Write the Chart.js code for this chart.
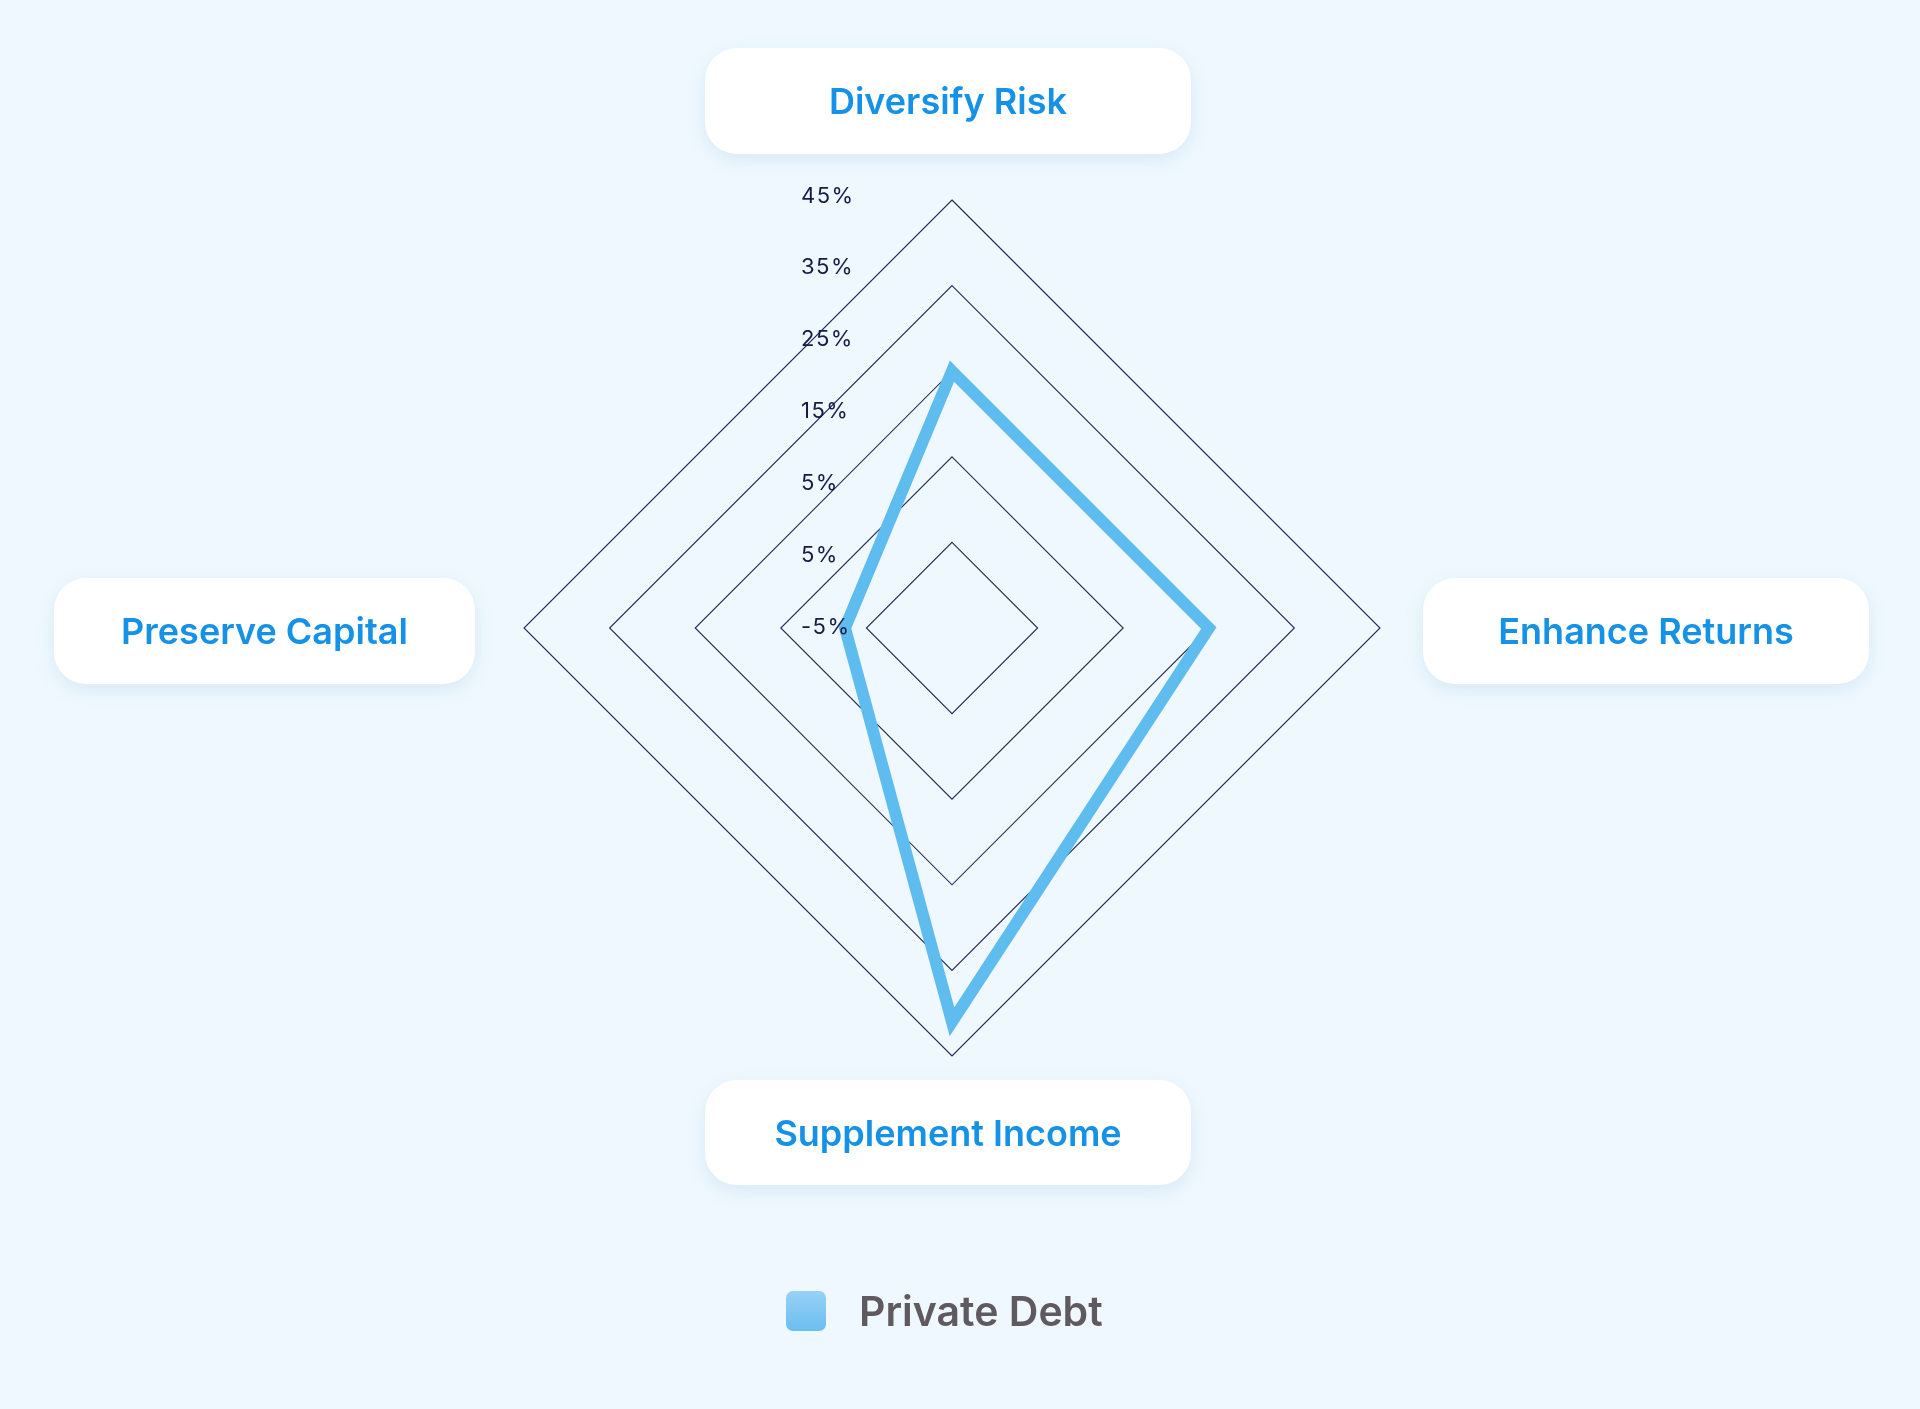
<!DOCTYPE html>
<html>
<head>
<meta charset="utf-8">
<script src="https://cdn.jsdelivr.net/npm/chart.js@4/dist/chart.umd.min.js"></script>
<style>
  html, body { margin: 0; padding: 0; }
  body {
    width: 1920px; height: 1409px; overflow: hidden;
    background: #eff8fe;
    font-family: Inter, "Open Sans", sans-serif;
    position: relative;
  }
  #wrap { position: absolute; left: 0; top: 0; width: 1920px; height: 1409px; }
  .axis-box {
    position: absolute;
    background: #fff;
    border-radius: 32px;
    box-shadow: 0 6px 18px rgba(120, 170, 210, 0.18);
    display: flex; align-items: center; justify-content: center;
    color: #1591e5;
    font-weight: 600;
    font-size: 36px;
    letter-spacing: 0;
  }
  #legend {
    position: absolute; left: 786px; top: 1286px;
    display: flex; align-items: center;
  }
  #legend .swatch {
    width: 40px; height: 40px; border-radius: 7px;
    background: linear-gradient(#97d2f6, #6bbdf1);
  }
  #legend .text {
    margin-left: 33px;
    color: #5f5a60; font-size: 41px; font-weight: 600;
    letter-spacing: 0;
  }
</style>
</head>
<body>
<div id="wrap"><canvas id="radar" width="1920" height="1409"></canvas></div>
<div id="boxes"></div>
<div id="legend"></div>
<script>
// Categories, clockwise from the top
const categories = ['Diversify Risk', 'Enhance Returns', 'Supplement Income', 'Preserve Capital'];
const seriesName = 'Private Debt';
const privateDebt = [25, 25, 41, 7.5];
// tick labels printed up the left side, from the centre outwards
const tickLabels = ['-5%', '5%', '5%', '15%', '25%', '35%', '45%'];

// label boxes (left, top, width, height) in page pixels
const boxLayout = [
    [705, 48, 486, 106],
    [1423, 578, 446, 106],
    [705, 1080, 486, 105],
    [54, 578, 421, 106]
];

// Build the axis label boxes
document.getElementById('boxes').innerHTML = categories.map((name, i) => {
    const b = boxLayout[i];
    return `<div class="axis-box" style="left:${b[0]}px;top:${b[1]}px;width:${b[2]}px;height:${b[3]}px">${name}</div>`;
}).join('');

// Draw the odd left-hand tick labels evenly between centre and outer ring
const tickLabelPlugin = {
    id: 'tickLabels',
    afterDatasetsDraw(chart) {
        const scale = chart.scales.r;
        const ctx = chart.ctx;
        ctx.save();
        ctx.font = '22px Inter, sans-serif';
        ctx.fillStyle = '#131d48';
        ctx.textAlign = 'left';
        ctx.textBaseline = 'middle';
        if ('letterSpacing' in ctx) ctx.letterSpacing = '1.5px';
        const n = tickLabels.length - 1;
        const span = scale.drawingArea + 3;
        tickLabels.forEach((t, i) => {
            ctx.fillText(t, scale.xCenter - 151, scale.yCenter - 1 - span * i / n);
        });
        ctx.restore();
    }
};

const chart = new Chart(document.getElementById('radar'), {
    type: 'radar',
    data: {
        labels: categories,
        datasets: [{
            label: seriesName,
            data: privateDebt,
            borderColor: '#5fbcef',
            backgroundColor: '#7cc6f3',
            borderWidth: 12,
            borderJoinStyle: 'miter',
            fill: false,
            pointRadius: 0,
            pointHoverRadius: 0,
            tension: 0
        }]
    },
    options: {
        responsive: false,
        animation: false,
        devicePixelRatio: 1,
        layout: {
            padding: { left: 524, right: 540, top: 200, bottom: 353 }
        },
        plugins: {
            legend: { display: false },
            tooltip: { enabled: false }
        },
        scales: {
            r: {
                min: -5,
                max: 45,
                ticks: { stepSize: 10, display: false },
                angleLines: { display: false },
                pointLabels: { display: false },
                grid: { color: '#1f2b55', lineWidth: 1.1 }
            }
        }
    },
    plugins: [tickLabelPlugin]
});

// Legend from the dataset
document.getElementById('legend').innerHTML = chart.data.datasets.map(ds =>
    `<div class="swatch"></div><div class="text">${ds.label}</div>`
).join('');
</script>
</body>
</html>
